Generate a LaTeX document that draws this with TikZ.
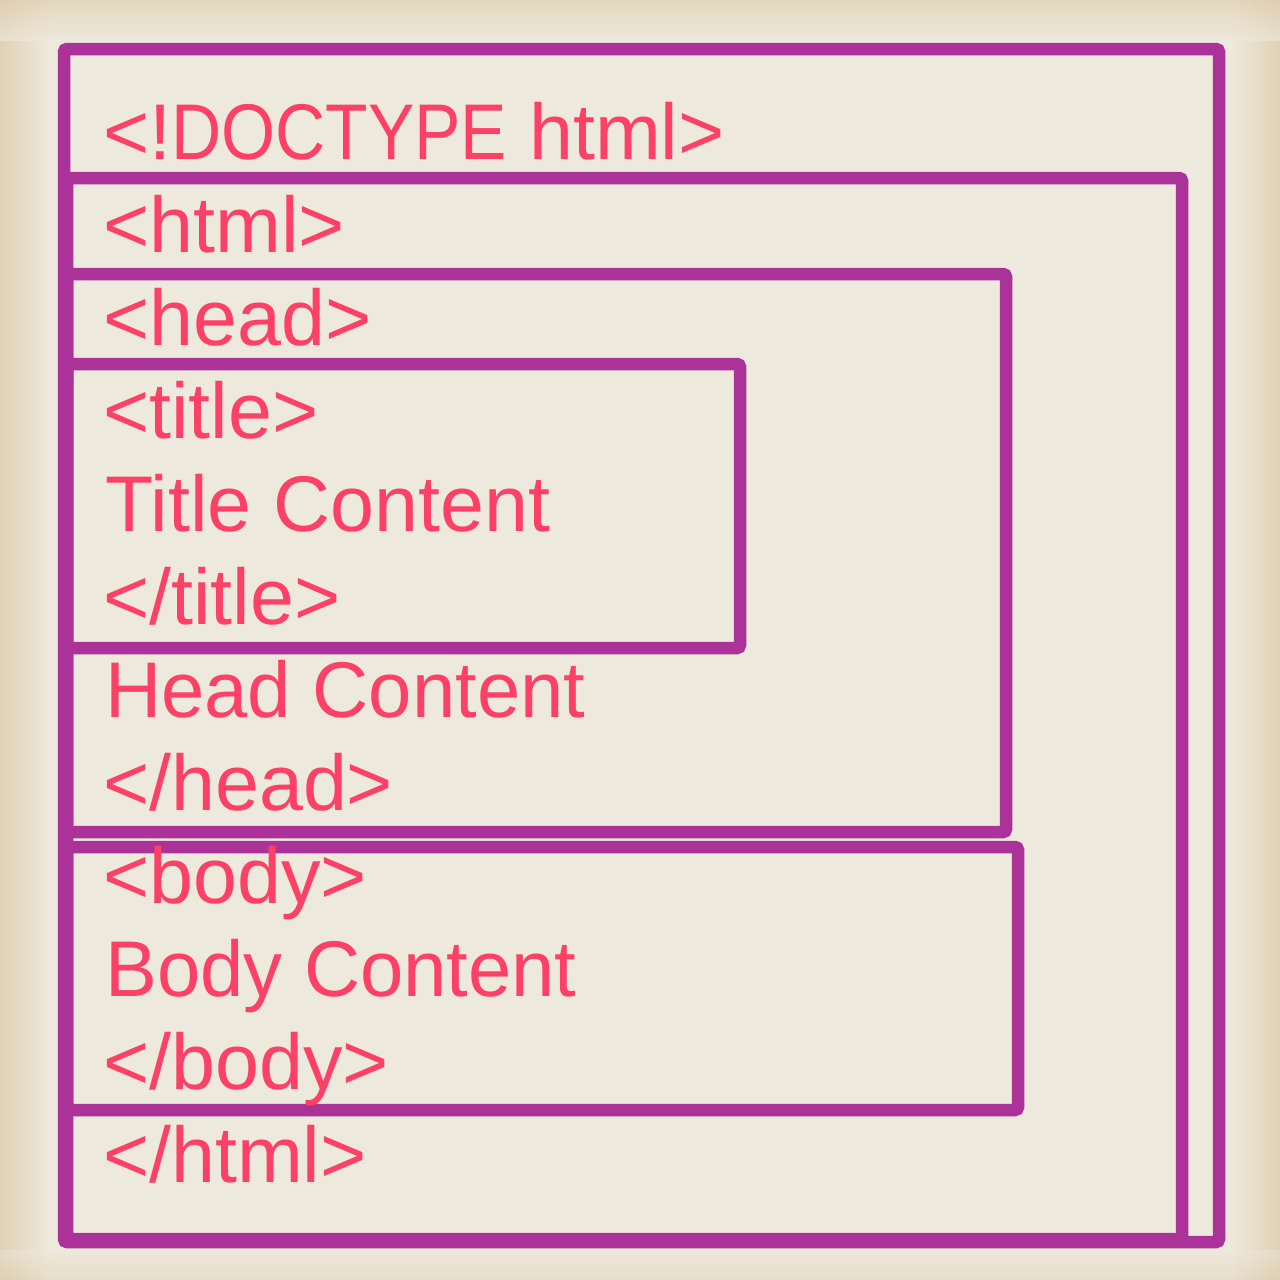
\documentclass[tikz,border=0pt]{standalone}
\usepackage{graphicx}
\usepackage{fontspec}
\setmainfont{Liberation Sans}
\definecolor{paperc}{RGB}{238,233,221}
\definecolor{paperedge}{RGB}{222,204,172}
\definecolor{boxc}{RGB}{170,50,152}
\definecolor{tagc}{RGB}{252,64,102}
\tikzset{
  frame/.style={draw=boxc, line width=12.5pt, rounded corners=3pt},
  tag/.style={text=tagc, inner sep=0pt, anchor=base west, font=\fontsize{79}{79}\selectfont},
}
\newcommand{\capsq}[1]{\scalebox{0.88}[1]{#1}}
\begin{document}
\begin{tikzpicture}[x=1pt,y=-1pt]
\useasboundingbox (0,0) rectangle (1280,1280);
% paper background
\fill[paperc] (0,0) rectangle (1280,1280);
\shade[left color=paperedge, right color=paperc, opacity=0.8] (0,0) rectangle (50,1280);
\shade[left color=paperc, right color=paperedge, opacity=0.8] (1230,0) rectangle (1280,1280);
\shade[top color=paperedge, bottom color=paperc, opacity=0.6] (0,0) rectangle (1280,40);
\shade[top color=paperc, bottom color=paperedge, opacity=0.4] (0,1250) rectangle (1280,1280);
% boxes
\draw[frame] (64,49) rectangle (1219,1242);
\draw[frame] (67,178) rectangle (1182,1239);
\draw[frame] (67,274) rectangle (1006,832);
\draw[frame] (67,364) rectangle (740,648);
\draw[frame] (67,847) rectangle (1018,1110);
% texts
\node[tag] (doctype) at (103,159) {<!\capsq{DOCTYPE} html>};
\node[tag] (htmlo) at (103,252) {<html>};
\node[tag] (heado) at (103,345) {<head>};
\node[tag] (titleo) at (103,438) {<title>};
\node[tag] (titlec) at (105,531) {Title Content};
\node[tag] (titlee) at (103,624) {</title>};
\node[tag] (headc) at (105,717) {\scalebox{0.985}[1]{Head Content}};
\node[tag] (heade) at (103,810) {</head>};
\node[tag] (bodyo) at (103,903) {<body>};
\node[tag] (bodyc) at (105,996) {\scalebox{0.985}[1]{Body Content}};
\node[tag] (bodye) at (103,1089) {</body>};
\node[tag] (htmle) at (103,1182) {</html>};
\end{tikzpicture}
\end{document}
